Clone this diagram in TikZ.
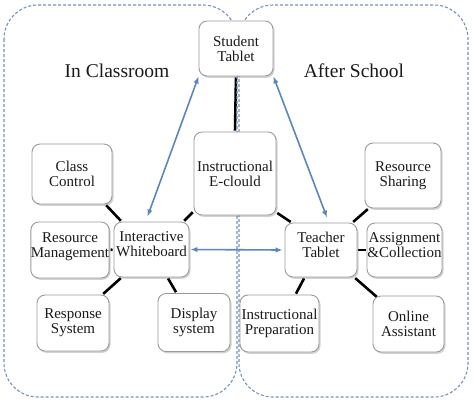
\documentclass[tikz,border=0pt]{standalone}
\usepackage{fontspec}
\setmainfont{Liberation Serif}
\usetikzlibrary{arrows.meta,shadows,backgrounds}
\definecolor{regionblue}{HTML}{7593B8}
\definecolor{arrowblue}{HTML}{5B87BB}
\definecolor{boxgray}{HTML}{9A9A9A}
\definecolor{txt}{HTML}{1A1A1A}
\tikzset{
  region/.style={draw=regionblue, line width=1.1bp, dash pattern=on 3bp off 2bp, rounded corners=34bp},
  box/.style={draw=boxgray, line width=0.9bp, fill=white, rounded corners=8bp, inner sep=0pt,
    align=center, text=txt, font=\fontsize{15bp}{15bp}\selectfont,
    drop shadow={shadow xshift=1.5bp, shadow yshift=-1.8bp, opacity=0.35, fill=gray}},
  midrow/.style={text depth=10bp},
  conn/.style={line width=2.6bp, black, shorten <=1bp, shorten >=1bp},
  arr/.style={draw=arrowblue, line width=1.6bp, {Latex[length=7bp,width=5.5bp]}-{Latex[length=7bp,width=5.5bp]}},
  title/.style={font=\fontsize{19.5bp}{22bp}\selectfont, text=txt, inner sep=0pt}
}
\begin{document}
\begin{tikzpicture}[x=1bp,y=-1bp]
\useasboundingbox (0,0) rectangle (474,407);
% regions
\draw[region] (4,5) rectangle (237,397);
\draw[region] (239,5) rectangle (468,397);
% titles
\node[title] (tin) at (117,71) {In Classroom};
\node[title] (taf) at (354,71) {After School};
% nodes
\node[box, minimum width=74bp, minimum height=55bp] (st) at (236,48.5) {Student\\Tablet};
\node[box, minimum width=82bp, minimum height=83bp] (ec) at (235,173.5) {Instructional\\E-clould};
\node[box, minimum width=80bp, minimum height=60bp] (cc) at (72,174) {Class\\Control};
\node[box, midrow, minimum width=77bp, minimum height=56bp] (rm) at (70,250) {Resource\\Management};
\node[box, midrow, minimum width=75bp, minimum height=55bp] (iw) at (151.5,249.5) {Interactive\\Whiteboard};
\node[box, midrow, minimum width=72bp, minimum height=54bp] (tt) at (321,250) {Teacher\\Tablet};
\node[box, minimum width=76bp, minimum height=65bp] (rsh) at (403,175.5) {Resource\\Sharing};
\node[box, midrow, minimum width=75bp, minimum height=54bp] (ac) at (404.5,250) {Assignment\\\&Collection};
\node[box, minimum width=72bp, minimum height=56bp] (rs) at (73,323) {Response\\System};
\node[box, minimum width=72bp, minimum height=58bp] (ds) at (194,322.5) {Display\\system};
\node[box, minimum width=79bp, minimum height=57bp] (ip) at (279.5,323.5) {Instructional\\Preparation};
\node[box, minimum width=71bp, minimum height=56bp] (oa) at (408.5,324) {Online\\Assistant};
% connectors
\begin{scope}[on background layer]
\fill[white] (0,0) rectangle (474,407);
\draw[conn] (st.south) -- (ec.north);
\draw[conn] ([xshift=-7bp]cc.south east) -- ([xshift=8bp]iw.north west);
\draw[conn] ([yshift=4bp]ec.south west) -- ([xshift=-6bp]iw.north east);
\draw[conn] (rm.east) -- (iw.west);
\draw[conn] ([xshift=8bp]iw.south west) -- ([xshift=-7bp]rs.north east);
\draw[conn] ([xshift=16bp]iw.south) -- ([xshift=19bp]ds.north west);
\draw[conn] ([yshift=3bp]ec.south east) -- ([xshift=7bp]tt.north west);
\draw[conn] ([xshift=4bp]rsh.south west) -- ([xshift=-5bp]tt.north east);
\draw[conn] (tt.east) -- (ac.west);
\draw[conn] ([xshift=20bp]tt.south west) -- ([xshift=16bp]ip.north);
\draw[conn] ([xshift=-3bp]tt.south east) -- ([xshift=5bp,yshift=-2bp]oa.north west);
\end{scope}
% blue arrows
\draw[arr] (st.south west) -- ([xshift=-4bp,yshift=5bp]iw.north);
\draw[arr] (st.south east) -- ([xshift=6bp,yshift=5bp]tt.north);
\draw[arr] ([xshift=1bp]iw.east) -- ([xshift=-2bp]tt.west);
\end{tikzpicture}
\end{document}
